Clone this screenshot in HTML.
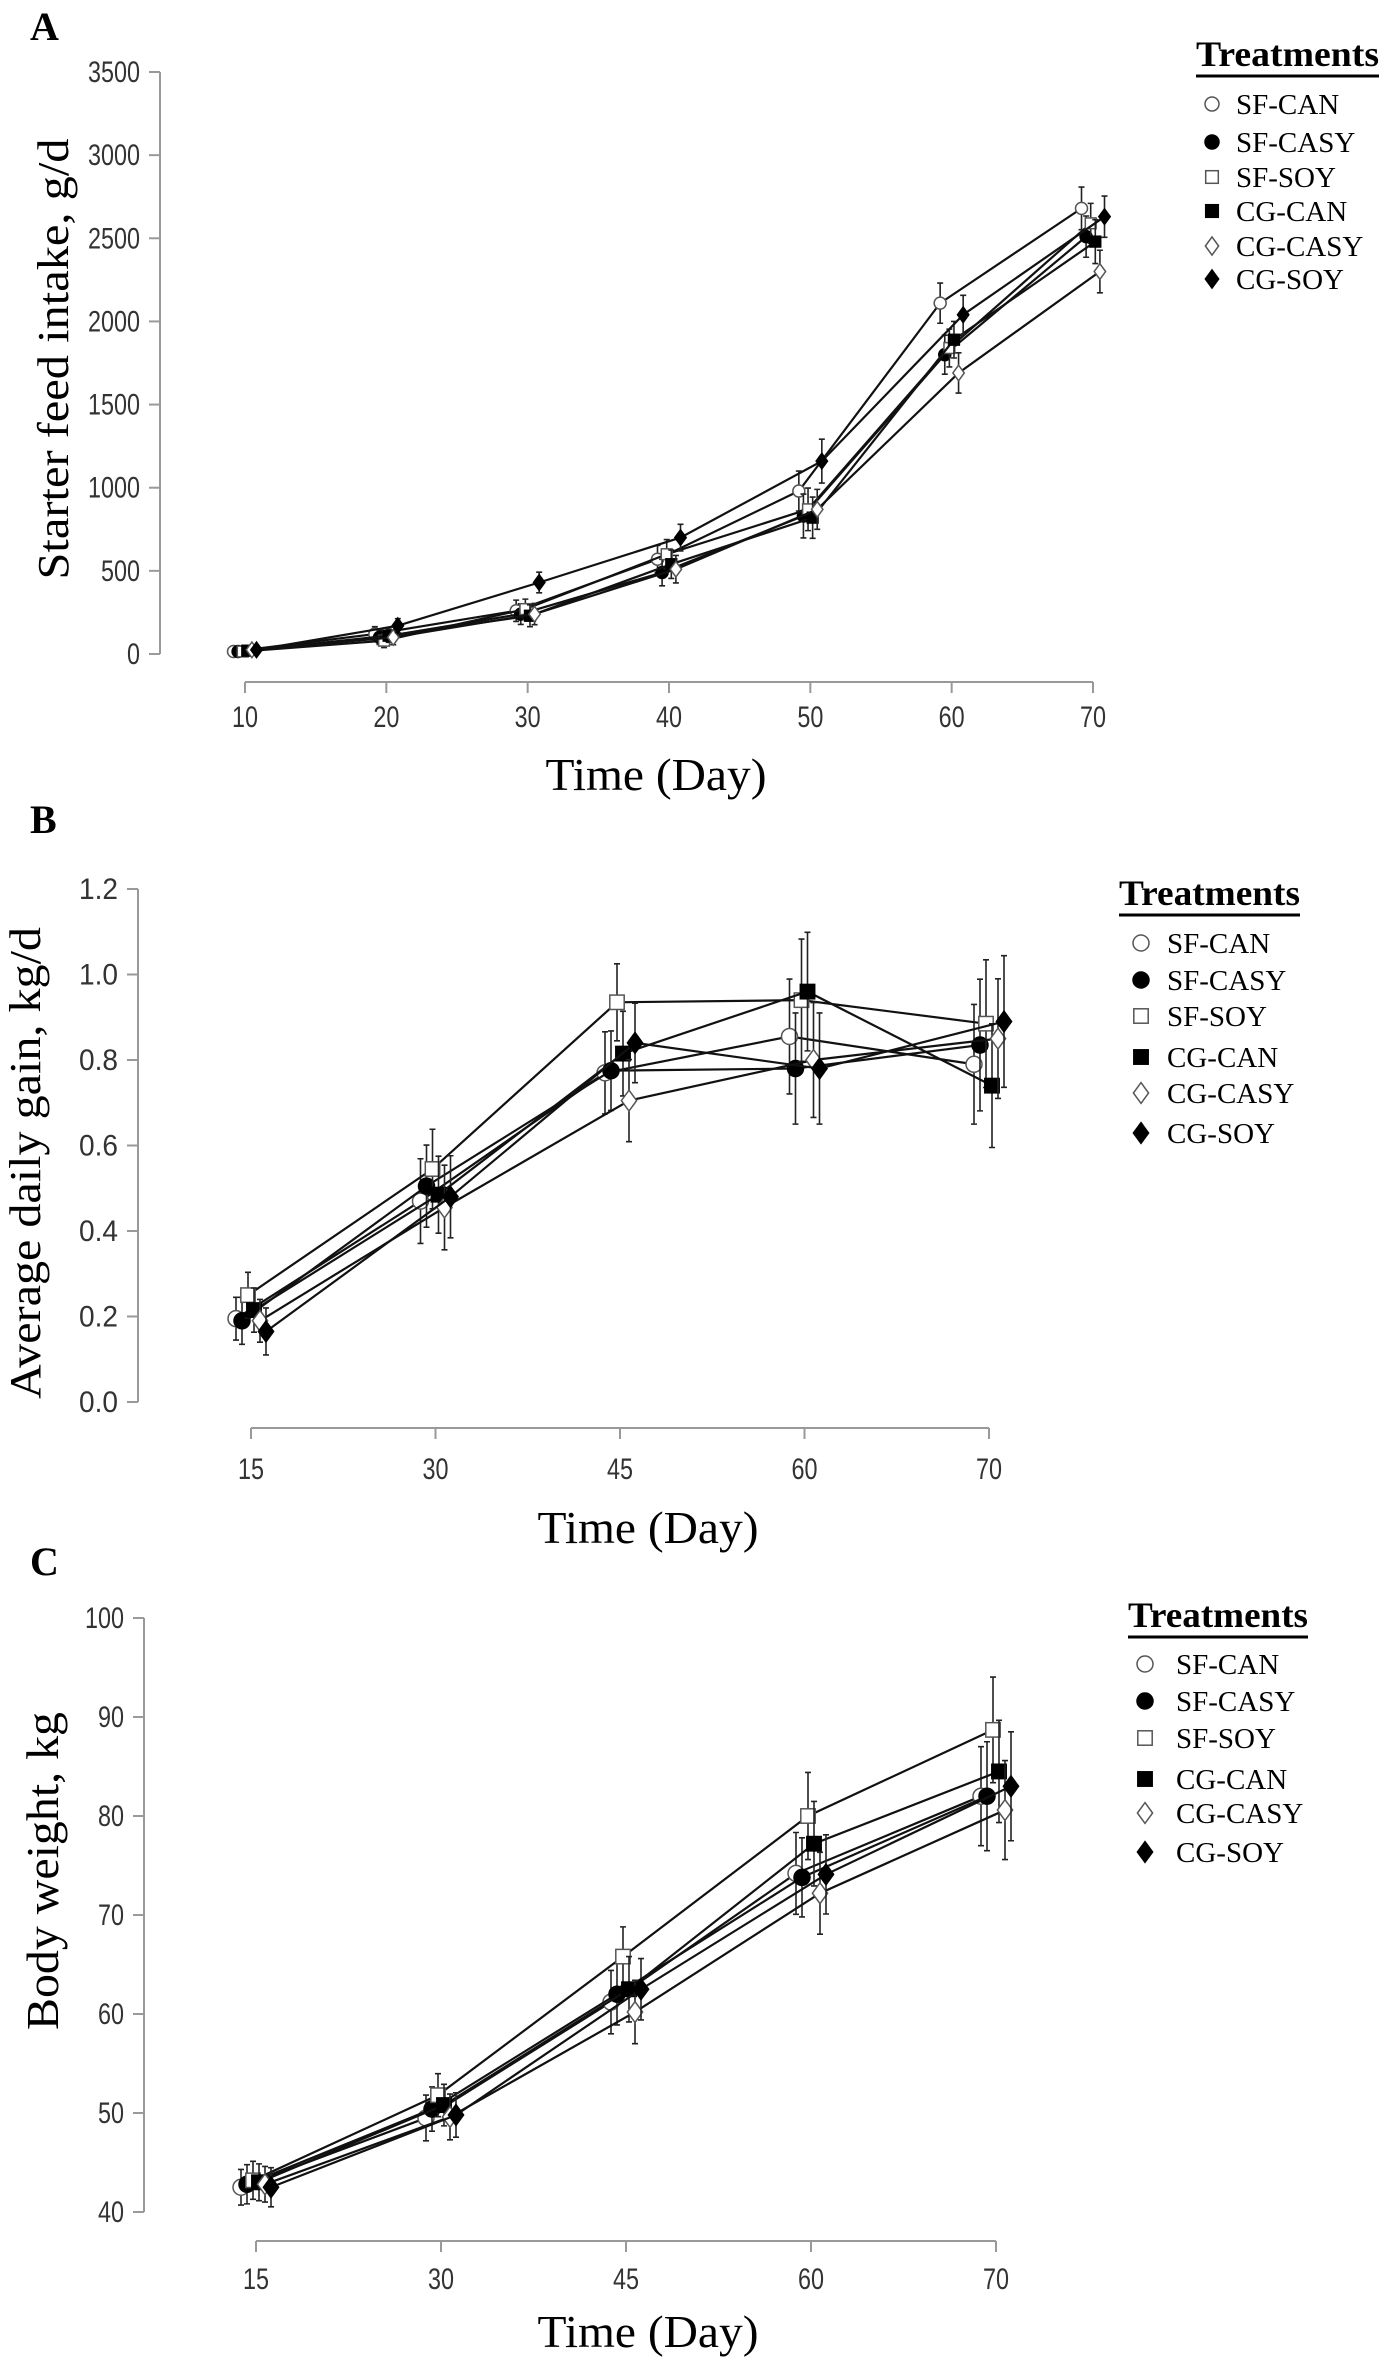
<!DOCTYPE html>
<html><head><meta charset="utf-8">
<style>
html,body{margin:0;padding:0;background:#fff;}
svg{display:block;}
</style></head>
<body>
<svg id="fig" width="1381" height="2357" viewBox="0 0 1381 2357" xmlns="http://www.w3.org/2000/svg">
<g id="root"></g>
</svg>
<script>
// ---- Shared ----
const seriesNames = ["SF-CAN","SF-CASY","SF-SOY","CG-CAN","CG-CASY","CG-SOY"];
const seriesShapes = ["circle-open","circle-filled","square-open","square-filled","diamond-open","diamond-filled"];

// ---- Panel A: starter feed intake ----
const daysA = [10,20,30,40,50,60,70];
const yTicksA = [0,500,1000,1500,2000,2500,3000,3500];
const sfCanA  = [15,120,260,570,980,2110,2680];
const sfCasyA = [15,100,240,490,830,1800,2510];
const sfSoyA  = [15,80,270,600,870,1840,2590];
const cgCanA  = [20,110,230,540,820,1890,2480];
const cgCasyA = [25,100,240,510,870,1690,2300];
const cgSoyA  = [25,170,430,700,1160,2040,2630];
const errA    = [20,40,60,80,120,110,120];

// ---- Panel B: average daily gain ----
const daysB = [15,30,45,60,70];
const yTicksB = [0.0,0.2,0.4,0.6,0.8,1.0,1.2];
const sfCanB  = [0.195,0.47,0.77,0.855,0.79];
const sfCasyB = [0.19,0.505,0.775,0.78,0.835];
const sfSoyB  = [0.25,0.545,0.935,0.94,0.885];
const cgCanB  = [0.215,0.485,0.815,0.96,0.74];
const cgCasyB = [0.19,0.455,0.705,0.80,0.85];
const cgSoyB  = [0.165,0.48,0.84,0.78,0.89];
const errB    = [0.05,0.09,0.09,0.13,0.14];

// ---- Panel C: body weight ----
const daysC = [15,30,45,60,70];
const yTicksC = [40,50,60,70,80,90,100];
const sfCanC  = [42.5,49.5,61.2,74.2,82.0];
const sfCasyC = [42.8,50.4,62.0,73.8,82.0];
const sfSoyC  = [43.2,51.8,65.8,80.0,88.7];
const cgCanC  = [43.0,50.8,62.5,77.2,84.5];
const cgCasyC = [42.8,49.6,60.2,72.2,80.6];
const cgSoyC  = [42.5,49.8,62.5,74.1,83.0];
const errC    = [1.8,2.1,3.0,4.0,5.0];

const NS = "http://www.w3.org/2000/svg";
const root = document.getElementById('root');
function mk(tag, attrs, parent){
  const e = document.createElementNS(NS, tag);
  for (const k in attrs) e.setAttribute(k, attrs[k]);
  (parent||root).appendChild(e);
  return e;
}

function drawMarker(g, shape, cx, cy, r){
  const filled = shape.indexOf('filled')>=0;
  const fill = filled ? '#000' : '#fff';
  const stroke = filled ? '#000' : '#555';
  let m;
  if (shape.startsWith('circle')) m = mk('circle',{cx:cx,cy:cy,r:r,fill:fill,stroke:stroke,'stroke-width':1.5},g);
  else if (shape.startsWith('square')) m = mk('rect',{x:cx-r*0.9,y:cy-r*0.9,width:r*1.8,height:r*1.8,fill:fill,stroke:stroke,'stroke-width':1.5},g);
  else m = mk('polygon',{points:`${cx},${cy-r*1.3} ${cx+r*0.95},${cy} ${cx},${cy+r*1.3} ${cx-r*0.95},${cy}`,fill:fill,stroke:stroke,'stroke-width':1.5},g);
  return m;
}

function panel(cfg){
  const g = mk('g',{});
  
  
  const yScale = v => cfg.yBot + (v - cfg.yMin)/(cfg.yMax - cfg.yMin)*(cfg.yTop - cfg.yBot);
  const xScale = cfg.xScale;
  const L = mk('text',{x:cfg.letterX,y:cfg.letterY,'font-family':'Liberation Serif, serif','font-weight':'bold','font-size':40},g);
  L.textContent = cfg.letter;
  
  
  const ya = mk('g',{},g);
  
  
  mk('line',{x1:cfg.yAxisX,y1:yScale(cfg.yTicks[cfg.yTicks.length-1]),x2:cfg.yAxisX,y2:yScale(cfg.yTicks[0]),stroke:'#999','stroke-width':2},ya);
  cfg.yTicks.forEach(t=>{
    const y = yScale(t);
    mk('line',{x1:cfg.yAxisX-11,y1:y,x2:cfg.yAxisX,y2:y,stroke:'#999','stroke-width':2},ya);
    const s = cfg.fmt(t);
    const tx = mk('text',{x:cfg.yAxisX-20,y:y+10,'text-anchor':'end','font-family':'Liberation Sans, sans-serif','font-size':30,fill:'#333',textLength:s.length*13,lengthAdjust:'spacingAndGlyphs'},ya);
    tx.textContent = s;
    
    
  });
  const xa = mk('g',{},g);
  
  
  mk('line',{x1:xScale(0),y1:cfg.xAxisY,x2:xScale(cfg.days.length-1),y2:cfg.xAxisY,stroke:'#999','stroke-width':2},xa);
  cfg.days.forEach((d,i)=>{
    const x = xScale(i);
    mk('line',{x1:x,y1:cfg.xAxisY,x2:x,y2:cfg.xAxisY+11,stroke:'#999','stroke-width':2},xa);
    const s = String(d);
    const tx = mk('text',{x:x,y:cfg.xLabelY+1,'text-anchor':'middle','font-family':'Liberation Sans, sans-serif','font-size':30,fill:'#333',textLength:s.length*13,lengthAdjust:'spacingAndGlyphs'},xa);
    tx.textContent = s;
    
    
  });
  const xt = mk('text',{x:cfg.xTitleX,y:cfg.xTitleY,'text-anchor':'middle','font-family':'Liberation Serif, serif','font-size':46,fill:'#000',textLength:221,lengthAdjust:'spacingAndGlyphs'},g);
  xt.textContent = 'Time (Day)';
  
  
  const yt = mk('text',{x:0,y:0,'text-anchor':'middle','font-family':'Liberation Serif, serif','font-size':cfg.yTitleSize,fill:'#000',textLength:cfg.yTitleLen,lengthAdjust:'spacingAndGlyphs',transform:`translate(${cfg.yTitleX},${cfg.yTitleY}) rotate(-90)`},g);
  yt.textContent = cfg.yTitle;
  
  
  cfg.series.forEach((vals,si)=>{
    const sg = mk('g',{},g);
    
    
    const off = (si-2.5)*cfg.dodge;
    const pts = vals.map((v,i)=>[xScale(i)+off, yScale(v)]);
    const ln = mk('polyline',{points:pts.map(p=>p.join(',')).join(' '),fill:'none',stroke:'#111','stroke-width':2.2},sg);
    
    
    vals.forEach((v,i)=>{
      const x = pts[i][0];
      const e = cfg.err[i]*(1+0.1*((si*7+i*3)%4)/3);
      const y1 = yScale(v+e), y2 = yScale(v-e);
      const eb = mk('path',{d:`M${x},${y1}V${y2}M${x-3},${y1}H${x+3}M${x-3},${y2}H${x+3}`,stroke:'#222','stroke-width':1.6,fill:'none'},sg);
      
      
    });
    vals.forEach((v,i)=>{
      const m = drawMarker(sg, seriesShapes[si], pts[i][0], pts[i][1], cfg.r);
      
      
    });
  });
  const lg = mk('g',{},g);
  
  
  const lt = mk('text',{x:cfg.legX,y:cfg.legTitleY,'font-family':'Liberation Serif, serif','font-weight':'bold','font-size':36,textLength:cfg.legW,lengthAdjust:'spacingAndGlyphs'},lg);
  lt.textContent = 'Treatments';
  
  
  mk('line',{x1:cfg.legX,y1:cfg.legTitleY+10,x2:cfg.legX+cfg.legW,y2:cfg.legTitleY+10,stroke:'#000','stroke-width':3},lg);
  seriesNames.forEach((n,i)=>{
    const y = cfg.legYs[i];
    const eg = mk('g',{},lg);
    
    
    drawMarker(eg, seriesShapes[i], cfg.legMarkX, y, cfg.legR);
    const t = mk('text',{x:cfg.legTextX,y:y+10,'font-family':'Liberation Serif, serif','font-size':29},eg);
    t.textContent = n;
  });
}

const linX = (x0,x1,days,min,max) => i => x0 + (days[i]-min)/(max-min)*(x1-x0);
const catX = (x0,x1,n) => i => x0 + i*(x1-x0)/(n-1);

panel({name:'panel-a-starter-intake',letter:'A',letterX:30,letterY:40,
  days:daysA,yTicks:yTicksA,yMin:0,yMax:3500,yTop:72,yBot:654,yAxisX:160,xAxisY:682,xLabelY:726,
  xScale:linX(245,1093,daysA,10,70),fmt:t=>String(t),
  series:[sfCanA,sfCasyA,sfSoyA,cgCanA,cgCasyA,cgSoyA],err:errA,dodge:4.6,r:6,
  xTitleX:656,xTitleY:790,yTitle:'Starter feed intake, g/d',yTitleX:68,yTitleY:359,yTitleLen:441,yTitleSize:44,
  legX:1196,legW:183,legTitleY:66,legYs:[104,142,177,211,246,279],legMarkX:1212,legTextX:1236,legR:7});

panel({name:'panel-b-daily-gain',letter:'B',letterX:30,letterY:833,
  days:daysB,yTicks:yTicksB,yMin:0,yMax:1.2,yTop:889,yBot:1402,yAxisX:138,xAxisY:1428,xLabelY:1478,
  xScale:catX(251,989,daysB.length),fmt:t=>t.toFixed(1),
  series:[sfCanB,sfCasyB,sfSoyB,cgCanB,cgCasyB,cgSoyB],err:errB,dodge:6,r:8,
  xTitleX:648,xTitleY:1543,yTitle:'Average daily gain, kg/d',yTitleX:40,yTitleY:1163,yTitleLen:472,yTitleSize:44,
  legX:1119,legW:181,legTitleY:905,legYs:[943,980,1016,1057,1093,1133],legMarkX:1141,legTextX:1167,legR:8});

panel({name:'panel-c-body-weight',letter:'C',letterX:30,letterY:1575,
  days:daysC,yTicks:yTicksC,yMin:40,yMax:100,yTop:1618,yBot:2212,yAxisX:144,xAxisY:2241,xLabelY:2288,
  xScale:catX(256,996,daysC.length),fmt:t=>String(t),
  series:[sfCanC,sfCasyC,sfSoyC,cgCanC,cgCasyC,cgSoyC],err:errC,dodge:6,r:8,
  xTitleX:648,xTitleY:2347,yTitle:'Body weight, kg',yTitleX:58,yTitleY:1871,yTitleLen:318,yTitleSize:46,
  legX:1128,legW:180,legTitleY:1627,legYs:[1664,1701,1738,1779,1813,1852],legMarkX:1145,legTextX:1176,legR:8});
</script>
</body></html>
